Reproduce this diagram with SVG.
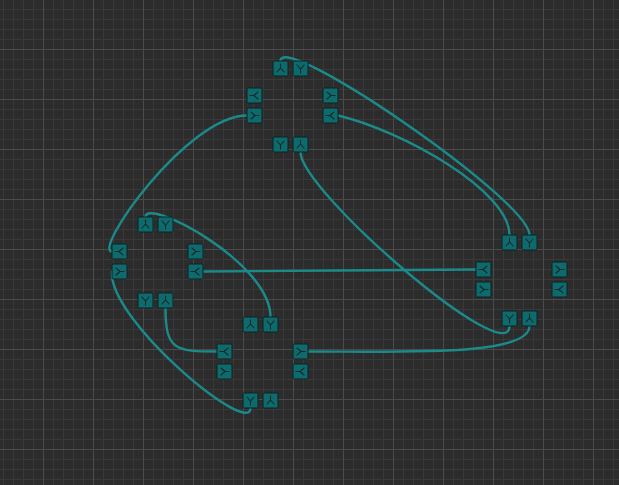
<svg xmlns="http://www.w3.org/2000/svg" width="619" height="485" viewBox="0 0 619 485">
<style>
.wire{fill:none;stroke:#1b8a8a;stroke-width:2.4;stroke-linecap:round}
.port{fill:#0e6a6c;stroke:#0b2424;stroke-width:1}
.glyph{fill:none;stroke:#0c2a2a;stroke-width:1.1;stroke-linecap:round;stroke-linejoin:round}
</style>
<defs>
<pattern id="minor" x="3" y="9" width="10" height="10" patternUnits="userSpaceOnUse"><path d="M0 0.5H10M0.5 0V10" stroke="#393939" stroke-width="1" fill="none"/></pattern>
<pattern id="major" x="43" y="49" width="50" height="50" patternUnits="userSpaceOnUse"><path d="M0 0.5H50M0.5 0V50" stroke="#4b4b4b" stroke-width="1" fill="none"/></pattern>
<path id="fork" class="glyph" d="M-3.5,-3.5 L0,0.5 L3.5,-3.5 M0,0.5 V4.5"/>
<g id="nodeports">
<rect class="port" x="26" y="0" width="15" height="15" rx="1.5"/>
<use href="#fork" transform="translate(33.5,7.5) rotate(180)"/>
<rect class="port" x="46" y="0" width="15" height="15" rx="1.5"/>
<use href="#fork" transform="translate(53.5,7.5)"/>
<rect class="port" x="0" y="27" width="15" height="15" rx="1.5"/>
<use href="#fork" transform="translate(7.5,34.5) rotate(90)"/>
<rect class="port" x="0" y="47" width="15" height="15" rx="1.5"/>
<use href="#fork" transform="translate(7.5,54.5) rotate(-90)"/>
<rect class="port" x="76" y="27" width="15" height="15" rx="1.5"/>
<use href="#fork" transform="translate(83.5,34.5) rotate(-90)"/>
<rect class="port" x="76" y="47" width="15" height="15" rx="1.5"/>
<use href="#fork" transform="translate(83.5,54.5) rotate(90)"/>
<rect class="port" x="26" y="76" width="15" height="15" rx="1.5"/>
<use href="#fork" transform="translate(33.5,83.5)"/>
<rect class="port" x="46" y="76" width="15" height="15" rx="1.5"/>
<use href="#fork" transform="translate(53.5,83.5) rotate(180)"/>
</g>
</defs>
<rect width="619" height="485" fill="#2c2c2c"/>
<rect width="619" height="485" fill="url(#minor)"/>
<rect width="619" height="485" fill="url(#major)"/>
<g id="connectors">
<path class="wire" d="M280.5,61 C280.5,30 529.5,200 529.5,235"/>
<path class="wire" d="M338,115.5 C400,130 509.5,190 509.5,235"/>
<path class="wire" d="M300.5,152 C300.5,191 509.5,371 509.5,326"/>
<path class="wire" d="M529.5,326 C529.5,356 407,351.5 308,351.5"/>
<path class="wire" d="M203,271.5 C290,271.5 390,269.5 476,269.5"/>
<path class="wire" d="M145.5,217 C145.5,197 270.5,262 270.5,317"/>
<path class="wire" d="M165.5,308 C165.5,350 175,351.5 217,351.5"/>
<path class="wire" d="M112,271.5 C108,320 250.5,438 250.5,408"/>
<path class="wire" d="M247,115.5 C187,115.5 92,251.5 112,251.5"/>
</g>
<g id="node-1"><use href="#nodeports" transform="translate(247,61)"/></g>
<g id="node-2"><use href="#nodeports" transform="translate(112,217)"/></g>
<g id="node-3"><use href="#nodeports" transform="translate(476,235)"/></g>
<g id="node-4"><use href="#nodeports" transform="translate(217,317)"/></g>
</svg>
